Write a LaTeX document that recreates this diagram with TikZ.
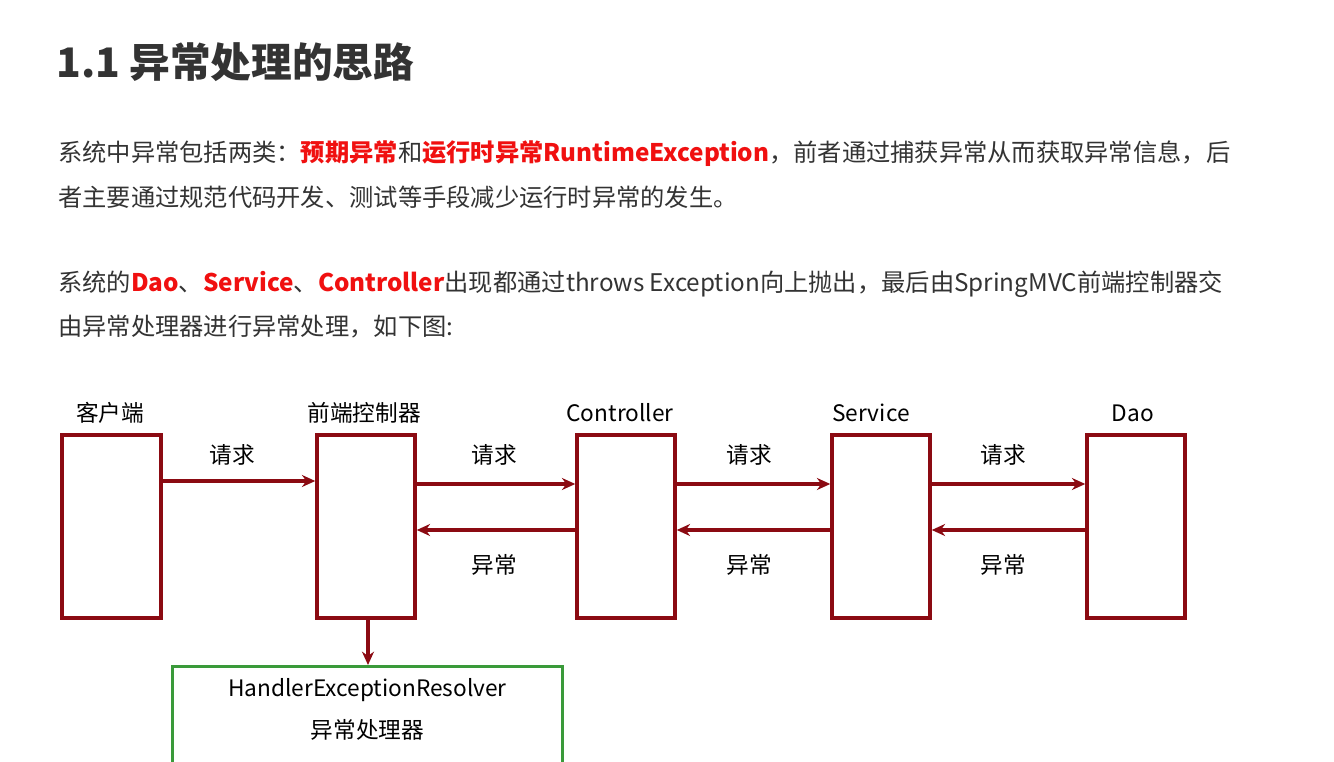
\documentclass[tikz,border=0pt]{standalone}
\usepackage{fontspec}
\setmainfont{Noto Sans CJK SC}
\usetikzlibrary{arrows.meta}
\definecolor{dred}{HTML}{8B0A12}
\definecolor{hred}{HTML}{F01010}
\definecolor{gbox}{HTML}{3A9A3A}
\definecolor{txt}{HTML}{333333}
\begin{document}
\begin{tikzpicture}[x=0.75pt,y=-0.75pt,
  comp/.style={draw=dred,line width=2.6pt,fill=white,minimum width=73.5pt,minimum height=137pt,inner sep=0pt},
  arr/.style={draw=dred,line width=2.4pt,-{Stealth[length=10pt,width=9pt]}},
  lbl/.style={font=\fontsize{17}{19}\selectfont,text=black},
  para/.style={anchor=west,font=\fontsize{18.2}{20}\selectfont,text=txt,inner sep=0pt}]
\useasboundingbox (0,0) rectangle (1334,762);
\fill[white] (0,0) rectangle (1334,762);
\node[anchor=west,inner sep=0pt,font=\fontsize{30.5}{33}\selectfont\bfseries,text=txt] (h) at (56,62) {1.1 异常处理的思路};
\node[para] (p1) at (58,154) {系统中异常包括两类：\textcolor{hred}{\bfseries 预期异常}和\textcolor{hred}{\bfseries 运行时异常RuntimeException}，前者通过捕获异常从而获取异常信息，后};
\node[para] (p2) at (58,197) {者主要通过规范代码开发、测试等手段减少运行时异常的发生。};
\node[para] (p3) at (58,284) {系统的\textcolor{hred}{\bfseries Dao}、\textcolor{hred}{\bfseries Service}、\textcolor{hred}{\bfseries Controller}出现都通过throws Exception向上抛出，最后由SpringMVC前端控制器交};
\node[para] (p4) at (58,327) {由异常处理器进行异常处理，如下图:};
\node[comp,minimum width=74pt] (c) at (111.5,526.5) {};
\node[comp] (f) at (366,526.5) {};
\node[comp] (ct) at (626,526.5) {};
\node[comp] (s) at (881,526.5) {};
\node[comp] (d) at (1136,526.5) {};
\node[lbl] at (110,413) {客户端};
\node[lbl] at (364,413) {前端控制器};
\node[lbl] at (620,413) {Controller};
\node[lbl] at (871,413) {Service};
\node[lbl] at (1133,413) {Dao};
\draw[arr] (c.east|-0,481) -- (f.west|-0,481);
\node[lbl] at (232,455) {请求};
\foreach \u/\v/\m in {f/ct/494, ct/s/749, s/d/1003}{
  \draw[arr] (\u.east|-0,484) -- (\v.west|-0,484);
  \draw[arr] (\v.west|-0,530) -- (\u.east|-0,530);
  \node[lbl] at (\m,455) {请求};
  \node[lbl] at (\m,565) {异常};
}
\node[draw=gbox,line width=2.2pt,minimum width=293pt,minimum height=78pt,inner sep=0pt,anchor=north] (g) at (367.5,665) {};
\node[lbl] at (367.5,690) {HandlerExceptionResolver};
\node[lbl] at (367.5,730) {异常处理器};
\draw[arr] (f.south-|368,0) -- (g.north-|368,0);
\end{tikzpicture}
\end{document}
